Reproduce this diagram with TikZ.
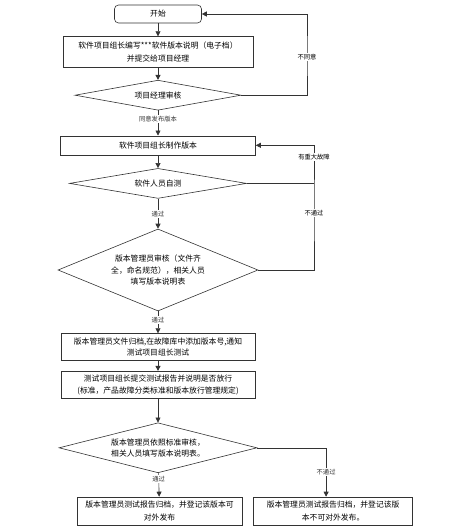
\documentclass[tikz,border=0pt]{standalone}
\usepackage{fontspec}
\setmainfont{Noto Sans CJK SC}
\usetikzlibrary{arrows.meta,positioning,shapes.geometric}
\tikzset{
  startbox/.style={draw=black!80,rounded corners=4pt,line width=0.6pt,
    minimum width=87pt,minimum height=18pt,inner sep=1pt,
    font=\fontsize{7.8}{9}\selectfont},
  procbox/.style={draw=black!80,line width=0.6pt,inner sep=1pt,
    align=center,font=\fontsize{7.8}{11.5}\selectfont},
  judge/.style={diamond,draw=black!80,line width=0.6pt,inner sep=0pt,
    aspect=3,align=center,font=\fontsize{7.8}{11.5}\selectfont},
  arrow/.style={-{Triangle[length=5pt,width=5pt]},line width=0.6pt,black!80},
  link/.style={line width=0.6pt,black!80},
  tag/.style={fill=white,inner sep=1pt,font=\fontsize{6.3}{7}\selectfont}
}
\begin{document}
\begin{tikzpicture}[x=1pt,y=1pt]
  \useasboundingbox (0,0) rectangle (474,-527);
  \node[startbox] (start) at (158,-14) {开始};
  \node[procbox,below=13pt of start,minimum width=190pt,minimum height=31pt,
    font=\fontsize{7.8}{13}\selectfont] (write)
    {软件项目组长编写***软件版本说明（电子档）\\并提交给项目经理};
  \node[judge,below=12pt of write,minimum width=166pt,minimum height=30pt]
    (review) {项目经理审核};
  \node[procbox,below=25pt of review,minimum width=195pt,minimum height=19pt]
    (make) {软件项目组长制作版本};
  \node[judge,below=13pt of make,minimum width=177pt,minimum height=30pt]
    (selftest) {软件人员自测};
  \node[judge,below=30pt of selftest,minimum width=200pt,minimum height=82pt,
    aspect=2.4] (audit)
    {版本管理员审核（文件齐\\全，命名规范），相关人员\\填写版本说明表};
  \node[procbox,below=22pt of audit,minimum width=194pt,minimum height=27pt]
    (archive) {版本管理员文件归档,在故障库中添加版本号,通知\\测试项目组长测试};
  \node[procbox,below=10pt of archive,minimum width=194pt,minimum height=27pt]
    (report) {测试项目组长提交测试报告并说明是否放行\\(标准，产品故障分类标准和版本放行管理规定)};
  \node[judge,below=24pt of report,minimum width=198pt,minimum height=50pt,
    aspect=4.5] (check)
    {版本管理员依照标准审核，\\相关人员填写版本说明表。};
  \node[procbox,minimum width=165pt,minimum height=28pt,
    font=\fontsize{7.8}{13}\selectfont] (release) at (159.5,-511)
    {版本管理员测试报告归档，并登记该版本可\\对外发布};
  \node[procbox,right=11pt of release,minimum width=159pt,minimum height=28pt,
    font=\fontsize{7.8}{13}\selectfont] (hold)
    {版本管理员测试报告归档，并登记该版\\本不可对外发布。};

  \coordinate (back1) at (307,-57);
  \coordinate (back2) at (314,-157);
  \coordinate (back3) at (314,-213);

  \draw[arrow] (start) -- (write);
  \draw[arrow] (write) -- (review);
  \draw[arrow] (review) -- node[tag,pos=0.35] (agree) {同意发布版本} (make);
  \draw[arrow] (review.east) -| (back1) |- (start.east);
  \draw[arrow] (make) -- (selftest);
  \draw[link] (selftest.east) -- (selftest.east -| back2);
  \draw[arrow] (selftest) -- node[tag,pos=0.5] (pass1) {通过} (audit);
  \draw[arrow] (audit.east) -| (back3) |- (make.east);
  \draw[arrow] (audit) -- node[tag,pos=0.4] (pass2) {通过} (archive);
  \draw[arrow] (archive) -- (report);
  \draw[arrow] (report) -- (check);
  \draw[arrow] (check) -- node[tag,pos=0.25] (pass3) {通过} (release);
  \draw[arrow] (check.east) -| node[tag,pos=0.75] (fail3) {不通过}
    ([xshift=-7pt]hold.north);

  \node[tag] (disagree) at (back1) {不同意};
  \node[tag] (fault) at (back2) {有重大故障};
  \node[tag] (fail2) at (back3) {不通过};
\end{tikzpicture}
\end{document}
